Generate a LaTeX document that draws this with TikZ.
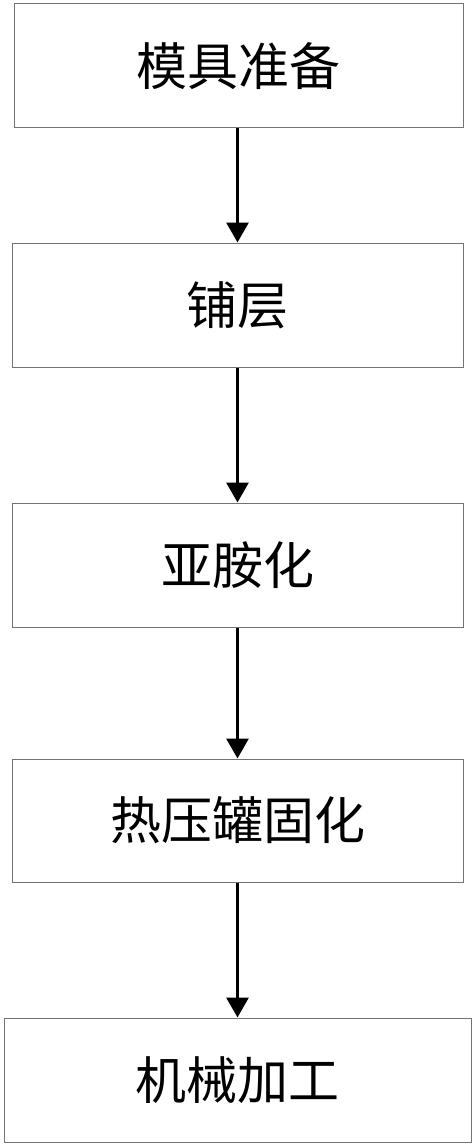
\documentclass[tikz,border=0pt]{standalone}
\usepackage{fontspec}
\newfontfamily\cjk{Noto Sans CJK SC}
\usetikzlibrary{arrows.meta}
\begin{document}
\begin{tikzpicture}[x=1pt,y=-1pt,
  stepbox/.style={draw=black!55,line width=1pt,fill=white,inner sep=0pt,
    font=\cjk\fontsize{51}{51}\selectfont,minimum height=124pt},
  flow/.style={line width=3pt,-{Triangle[width=22pt,length=20pt]}}]
\useasboundingbox[fill=white] (0,0) rectangle (474,1145);
\node[stepbox,minimum width=449pt] (b1) at (238.5,66) {模具准备};
\node[stepbox,minimum width=451pt] (b2) at (237.5,305) {铺层};
\node[stepbox,minimum width=451pt] (b3) at (237.5,565) {亚胺化};
\node[stepbox,minimum width=451pt,minimum height=123pt] (b4) at (237.5,820.5) {热压罐固化};
\node[stepbox,minimum width=467pt] (b5) at (237.5,1080) {机械加工};
\draw[flow] (b2.north |- b1.south) -- (b2.north);
\draw[flow] (b2.south) -- (b3.north);
\draw[flow] (b3.south) -- (b4.north);
\draw[flow] (b4.south) -- (b5.north);
\end{tikzpicture}
\end{document}
